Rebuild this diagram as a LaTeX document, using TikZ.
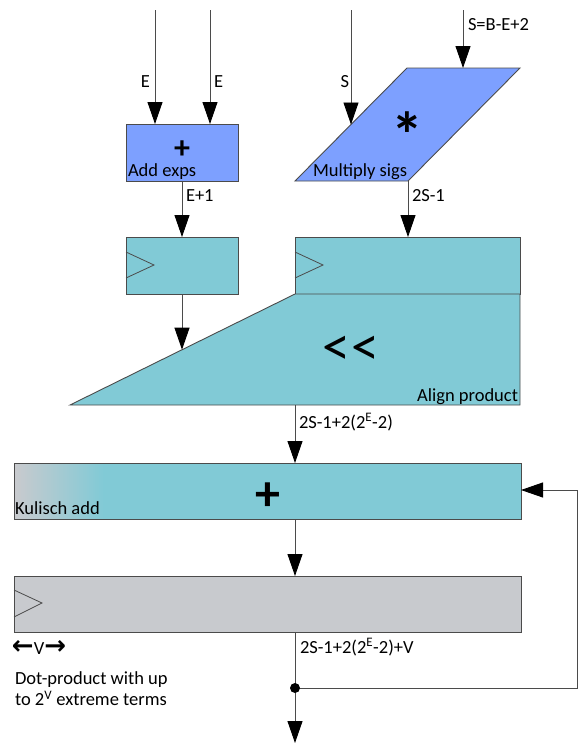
\documentclass[tikz,border=0pt]{standalone}
\usepackage{fontspec}
\setmainfont{Carlito}
\newfontfamily\symfont{DejaVu Sans}
\usetikzlibrary{arrows.meta}
\definecolor{blueF}{RGB}{125,160,255}
\definecolor{tealF}{RGB}{129,202,214}
\definecolor{grayF}{RGB}{200,202,206}
\definecolor{lineC}{RGB}{75,75,75}
\begin{document}
\begin{tikzpicture}[x=1pt,y=-1pt,
  box/.style={draw=lineC, line width=0.9pt, inner sep=0pt, outer sep=0pt, anchor=north west},
  conn/.style={draw=lineC, line width=0.9pt, -{Triangle[length=22pt,width=15pt,color=black]}},
  lbl/.style={font=\fontsize{18.5}{21}\selectfont, inner sep=0pt, outer sep=0pt},
  bigsym/.style={inner sep=0pt, outer sep=0pt},
  clk/.style={draw=lineC, line width=0.8pt}]
\useasboundingbox (0,0) rectangle (581,750);

% inputs
\coordinate (inA) at (155,10);
\coordinate (inB) at (210,10);
\coordinate (inS) at (351,10);
\coordinate (inSB) at (463,10);

% add exps box
\node[box, fill=blueF, minimum width=112pt, minimum height=57pt] (add) at (126,124) {};
\node[bigsym, font=\fontsize{32}{32}\selectfont\bfseries] (addsym) at (182,150) {+};
\node[lbl, anchor=base west] (addlbl) at (128,176) {Add exps};

% multiply parallelogram
\draw[fill=blueF, draw=lineC, line width=0.9pt] (295,181) -- (408,181) -- (520,68) -- (407,68) -- cycle;
\coordinate (mulTop) at (463,68);
\coordinate (mulLeft) at (351,124.5);
\coordinate (mulBot) at (408,181);
\node[bigsym, font=\fontsize{64}{64}\selectfont\bfseries] (mulsym) at (407,135) {*};
\node[lbl, anchor=base west] (mullbl) at (313,176) {Multiply sigs};

% registers
\node[box, fill=tealF, minimum width=112pt, minimum height=57pt] (reg1) at (126,237) {};
\draw[clk] (126,252) -- (154,265) -- (126,278);
\node[box, fill=tealF, minimum width=225pt, minimum height=57pt] (reg2) at (295,237) {};
\draw[clk] (295,252) -- (323,265) -- (295,278);

% align trapezoid
\draw[fill=tealF, draw=lineC, line width=0.9pt] (295,294) -- (520,294) -- (520,405) -- (70,405) -- cycle;
\coordinate (alignHit) at (182,349.7);
\coordinate (alignBot) at (295,405);
\node[bigsym, font=\fontsize{56}{56}\selectfont] (shl) at (351,351) {<\kern1pt<};
\node[lbl, anchor=base east] (alignlbl) at (518,401) {Align product};

% Kulisch add
\node[box, fill=tealF, minimum width=507pt, minimum height=56pt] (kul) at (14,463) {};
\foreach \i in {0,...,44} {
  \pgfmathsetmacro{\pc}{100-\i*100/44}
  \fill[color=grayF!\pc!tealF] (14.5+2*\i,463.5) rectangle (16.6+2*\i,518.5);
}
\draw[draw=lineC, line width=0.9pt] (14,463) -- (14,519);
\node[bigsym, font=\fontsize{50}{50}\selectfont\bfseries] (kulsym) at (268,497) {+};
\node[lbl, anchor=base west] (kullbl) at (15,514) {Kulisch add};

% accumulator register
\node[box, fill=grayF, minimum width=507pt, minimum height=56pt] (reg3) at (14,576) {};
\draw[clk] (14,590) -- (42,603) -- (14,617);

\coordinate (dot) at (295,688);
\coordinate (outEnd) at (295,743);
\coordinate (fbA) at (577,688);
\coordinate (fbB) at (577,490);
\coordinate (kulIn) at (521,490);

% connectors
\draw[conn] (inA) -- (inA |- add.north);
\draw[conn] (inB) -- (inB |- add.north);
\draw[conn] (inS) -- (mulLeft);
\draw[conn] (inSB) -- (mulTop);
\draw[conn] (add.south) -- (reg1.north);
\draw[conn] (mulBot) -- (mulBot |- reg2.north);
\draw[conn] (reg1.south) -- (alignHit);
\draw[conn] (alignBot) -- (alignBot |- kul.north);
\draw[conn] (alignBot |- kul.south) -- (alignBot |- reg3.north);
\draw[conn] (alignBot |- reg3.south) -- (outEnd);
\draw[conn] (dot) -- (fbA) -- (fbB) -- (kulIn);
\fill[black] (dot) circle (5pt);

% labels
\node[lbl, anchor=east] (lE1) at (150,82) {E};
\node[lbl, anchor=west] (lE2) at (214,82) {E};
\node[lbl, anchor=east] (lS) at (349,82) {S};
\node[lbl, anchor=west] (lSB) at (468,25) {S=B-E+2};
\node[lbl, anchor=west] (lE1p) at (186,196) {E+1};
\node[lbl, anchor=west] (l2S) at (412,196) {2S-1};
\node[lbl, anchor=west] (lAl) at (299,422) {2S-1+2(2\textsuperscript{E}-2)};
\node[lbl, anchor=west] (lOut) at (300,647) {2S-1+2(2\textsuperscript{E}-2)+V};
\node[lbl, anchor=west] (lV) at (12,647) {{\symfont\bfseries\fontsize{26}{26}\selectfont ←}V{\symfont\bfseries\fontsize{26}{26}\selectfont →}};
\node[lbl, anchor=west, align=left] (ldot) at (15,689) {Dot-product with up\\to 2\textsuperscript{V} extreme terms};
\end{tikzpicture}
\end{document}
